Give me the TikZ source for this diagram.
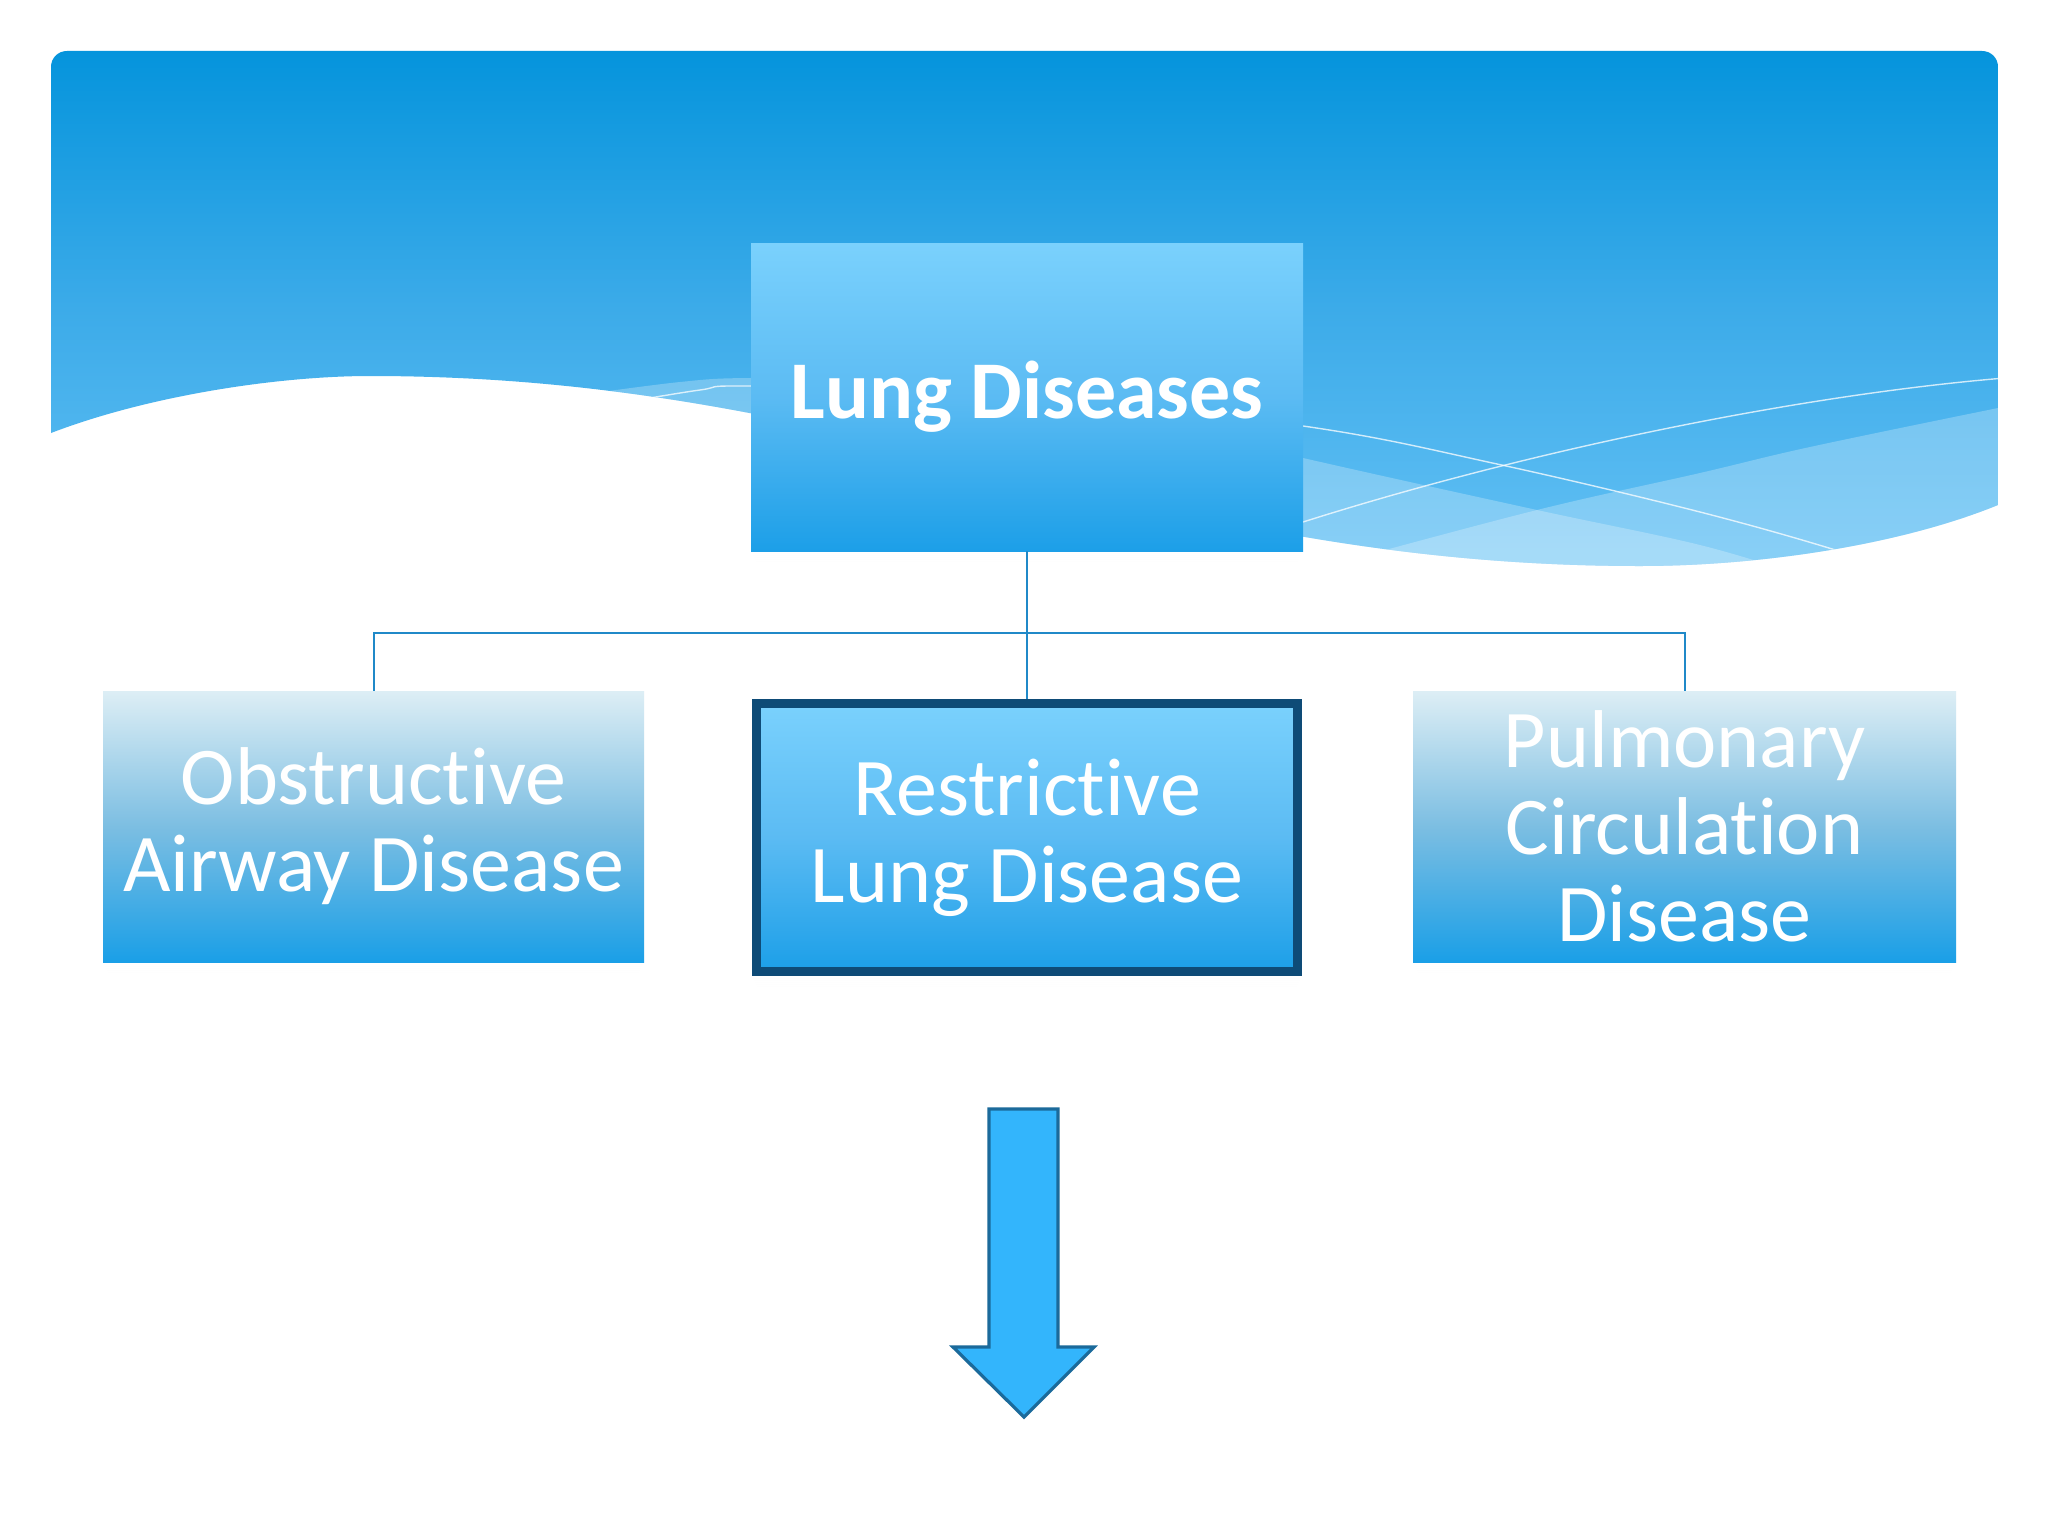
\documentclass[tikz,border=0pt]{standalone}
\usepackage{fontspec}
\setmainfont{Carlito}[Ligatures={NoCommon}]
\definecolor{panelTop}{HTML}{0594DC}
\definecolor{panelMid}{HTML}{3CABE9}
\definecolor{panelBot}{HTML}{62C0F4}
\definecolor{boxTop}{HTML}{7AD1FD}
\definecolor{boxMid}{HTML}{5BBBF3}
\definecolor{boxBot}{HTML}{1C9FE8}
\definecolor{sideTop}{HTML}{DDEEF5}
\definecolor{sideMid}{HTML}{7CBEE2}
\definecolor{sideBot}{HTML}{1A9FE7}
\definecolor{restrBorder}{HTML}{0E4B77}
\definecolor{connCol}{HTML}{2089C8}
\definecolor{arrowFill}{HTML}{33B5FC}
\definecolor{arrowLine}{HTML}{1B6A9B}
\newcommand\mybxshadow[4]{%
  \foreach \d in {2,4,6,8,10}{\fill[black,opacity=0.035] (#1+\d/2,#2+\d) rectangle (#3-\d/2,#4+\d);}}
\tikzset{
  boxtxt/.style={align=center, text=white, inner sep=0pt, font={\fontsize{41}{43.5}\selectfont}},
  mainbox/.style={boxtxt, rectangle, top color=boxTop, bottom color=boxBot, middle color=boxMid},
  sidebox/.style={boxtxt, rectangle, top color=sideTop, bottom color=sideBot, middle color=sideMid},
  conn/.style={draw=connCol, line width=1pt},
  waveline/.style={draw=white, opacity=0.75, line width=0.7pt},
  waveband/.style={fill=white, opacity=0.25},
}
\begin{document}
\begin{tikzpicture}[x=0.5pt,y=-0.5pt]
\useasboundingbox (0,0) rectangle (2048,1536);
\fill[white] (0,0) rectangle (2048,1536);
% blue header panel with wave
\shade[top color=panelTop, bottom color=panelBot, middle color=panelMid]
  (51,433) -- (51,67) .. controls (51,58) and (58,51) .. (67,51) -- (1982,51)
  .. controls (1991,51) and (1998,58) .. (1998,67) -- (1998,505)
  .. controls (1900,545) and (1760,566) .. (1640,566)
  .. controls (1140,566) and (870,376) .. (370,376)
  .. controls (280,376) and (150,395) .. (51,433) -- cycle;
\begin{scope}
  \clip (51,433) -- (51,67) .. controls (51,58) and (58,51) .. (67,51) -- (1982,51)
  .. controls (1991,51) and (1998,58) .. (1998,67) -- (1998,505)
  .. controls (1900,545) and (1760,566) .. (1640,566)
  .. controls (1140,566) and (870,376) .. (370,376)
  .. controls (280,376) and (150,395) .. (51,433) -- cycle;
  \fill[waveband] plot[smooth, tension=0.6] coordinates {(580,395) (680,382) (750,378) (900,380) (1100,410) (1303,458) (1537,510) (1700,545) (1800,575)} -- (1800,640) -- (580,640) -- cycle;
  \fill[waveband] plot[smooth, tension=0.6] coordinates {(1330,565) (1537,510) (1700,473) (1810,447) (1998,408) (2020,404)} -- (2020,640) -- (1330,640) -- cycle;
  \draw[waveline] plot[smooth, tension=0.6] coordinates {(615,404) (700,390) (750,386) (1000,392) (1303,426) (1497,464) (1700,512) (1845,553) (1900,575)};
  \draw[waveline] (1303,522) .. controls (1530,450) and (1800,395) .. (2005,378);
\end{scope}
% shadows
\mybxshadow{751}{551}{1303}{551}
\mybxshadow{103}{962}{644}{962}
\mybxshadow{752}{976}{1302}{976}
\mybxshadow{1413}{962}{1956}{962}
% nodes
\node[mainbox, minimum width=276pt, minimum height=154pt, font={\bfseries\fontsize{41}{43.5}\selectfont}] (lung) at (1027,397) {Lung Diseases};
\node[sidebox, minimum width=270.5pt, minimum height=135.5pt] (obst) at (373.5,826.5) {Obstructive\\Airway Disease};
\node[mainbox, draw=restrBorder, line width=4.5pt, minimum width=270.5pt, minimum height=134pt] (restr) at (1027,837.5) {Restrictive\\Lung Disease};
\node[sidebox, minimum width=271.5pt, minimum height=135.5pt] (pulm) at (1684.5,826.5) {Pulmonary\\Circulation\\Disease};
% connectors
\coordinate (jn) at (lung.south |- 0,633);
\draw[conn] (lung.south) -- (jn);
\draw[conn] (jn) -| (obst.north);
\draw[conn] (jn) -| (pulm.north);
\draw[conn] (jn) -- (restr.north);
% big down arrow
\filldraw[fill=arrowFill, draw=arrowLine, line width=1.6pt, line join=miter]
  (989,1109) -- (1058,1109) -- (1058,1347) -- (1094,1347) -- (1024,1417) -- (953,1347) -- (989,1347) -- cycle;
\end{tikzpicture}
\end{document}
